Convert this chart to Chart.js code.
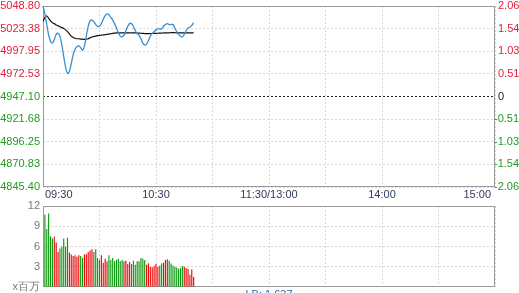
<!DOCTYPE html>
<html><head><meta charset="utf-8">
<script src="https://cdn.jsdelivr.net/npm/chart.js@4.4.0/dist/chart.umd.min.js"></script>
<style>
html,body{margin:0;padding:0;background:#fff;overflow:hidden;}
#wrap{position:relative;width:519px;height:293px;}
#c1{position:absolute;left:0;top:0;}
#c2{position:absolute;left:0;top:200px;}
</style></head><body>
<div id="wrap">
<canvas id="c1" width="519" height="200"></canvas>
<canvas id="c2" width="519" height="93"></canvas>
</div>
<script>
// ---- data ----
const timeLabels = ['09:30','10:30','11:30/13:00','14:00','15:00'];
const timeLabelMinutes = [0,60,120,180,240];
const gridMinutes = [0,30,60,90,120,150,180,210,240];
const prevClose = 4947.10;
const priceTicks = [5048.80,5023.38,4997.95,4972.53,4947.10,4921.68,4896.25,4870.83,4845.40];
const pctTicks = [2.06,1.54,1.03,0.51,0,-0.51,-1.03,-1.54,-2.06];
// price per minute from 09:30
const price = [5048.8,5040,5028,5016,5009,5007,5011,5017,5018,5015,
  5005,4992,4980,4973,4975,4984,4994,5000,5003,5004,
  5002,4999,5004,5015,5026,5032,5033,5031,5028,5026,
  5026,5029,5034,5038,5040,5039,5036,5033,5029,5024,
  5019,5015,5014,5016,5021,5026,5029,5029,5026,5021,
  5018,5016,5012,5007,5005,5006,5010,5015,5018,5020,
  5022,5023,5023,5023,5026,5028,5029,5028,5028,5028,
  5024,5020,5017,5015,5014,5017,5021,5024,5025,5027,5030];
const avgPrice = [5031,5036,5037.6,5035,5032,5030,5029,5027.5,5026.5,5025.5,
  5024.5,5023.5,5022,5020,5017.5,5015,5013.5,5012.5,5012,5012,
  5011.5,5011.5,5011.2,5011.5,5012,5013,5014,5014.5,5015,5015.5,
  5015.8,5016,5016.3,5016.6,5017,5017.3,5017.6,5018,5018.3,5018.5,
  5018.6,5018.6,5018.5,5018.5,5018.5,5018.6,5018.7,5018.7,5018.6,5018.5,
  5018.4,5018.3,5018.2,5018,5017.8,5017.7,5017.7,5017.8,5017.9,5018,
  5018.1,5018.2,5018.3,5018.4,5018.5,5018.6,5018.7,5018.7,5018.8,5018.8,
  5018.8,5018.7,5018.7,5018.6,5018.5,5018.5,5018.5,5018.5,5018.5,5018.6,5018.6];
// volume (x百万) for minutes 1..80
const volume = [10.7,8.6,10.9,7.5,7.2,7.5,6.6,5.2,5.7,6.0,
  7.2,6.0,7.3,5.1,4.8,4.6,4.7,4.5,4.7,4.6,
  4.3,4.8,4.9,5.2,5.4,5.6,5.2,5.6,4.3,4.0,
  4.7,3.6,4.2,3.8,4.7,4.0,4.3,3.8,4.0,4.2,
  3.8,4.0,3.8,3.9,3.4,3.7,3.4,3.9,3.3,3.8,
  3.8,4.3,4.2,4.0,3.3,3.5,3.0,2.9,3.1,3.4,
  3.0,3.2,3.5,3.6,4.0,4.1,3.9,3.5,3.2,3.0,
  2.9,2.7,2.8,3.1,3.0,2.8,2.7,1.8,2.6,1.5];
const volTicks = [0,3,6,9,12];
const volUnit = 'x百万';
const lbText = 'LB: 1.637';

// ---- styles ----
const FONT = {family:'"Liberation Sans", Arial, sans-serif', size:11};
const FONT_CSS = '11px "Liberation Sans", Arial, sans-serif';
const RED = '#e0203a', GREEN = '#229a22', UPBAR = '#e80808', DOWNBAR = '#0c960c';
const GRID = '#d9d9d9', FRAME = '#9a9a9a';

const framePlugin = {
  id:'frame',
  beforeDatasetsDraw(chart){
    const a = chart.chartArea, ctx = chart.ctx;
    ctx.save(); ctx.strokeStyle = FRAME; ctx.lineWidth = 1;
    ctx.strokeRect(Math.round(a.left)+0.5, Math.round(a.top)+0.5, Math.round(a.right-a.left)-1, Math.round(a.bottom-a.top)-1);
    ctx.restore();
  }
};
const timeLabelPlugin = {
  id:'timeLabels',
  afterDraw(chart){
    const s = chart.scales.x, ctx = chart.ctx, a = chart.chartArea;
    ctx.save(); ctx.font = FONT_CSS;
    ctx.fillStyle = '#2f3a60'; ctx.textBaseline = 'middle';
    timeLabels.forEach((t,i)=>{
      let x = s.getPixelForValue(timeLabelMinutes[i]);
      if(i===0){ctx.textAlign='left'; x += 2;}
      else if(i===timeLabels.length-1){ctx.textAlign='right'; x -= 4;}
      else ctx.textAlign='center';
      ctx.fillText(t, x, a.bottom + 8);
    });
    ctx.restore();
  }
};
const pctLabelPlugin = {
  id:'pctLabels',
  afterDraw(chart){
    const s = chart.scales.y1, ctx = chart.ctx, a = chart.chartArea;
    ctx.save(); ctx.font = FONT_CSS; ctx.textBaseline = 'middle'; ctx.textAlign = 'left';
    pctTicks.forEach(v=>{
      const y = s.getPixelForValue(v);
      ctx.fillStyle = v > 0 ? RED : (v < 0 ? GREEN : '#222');
      const txt = v === 0 ? '0' : v.toFixed(2);
      ctx.fillText(txt, v < 0 ? a.right - 1 : a.right + 3, y);
    });
    ctx.restore();
  }
};
const lbPlugin = {
  id:'lb',
  afterDraw(chart){
    const a = chart.chartArea, ctx = chart.ctx;
    ctx.save(); ctx.font = FONT_CSS;
    ctx.fillStyle = '#2a66b0'; ctx.textAlign = 'center'; ctx.textBaseline = 'alphabetic';
    ctx.fillText(lbText, (a.left+a.right)/2, a.bottom + 11);
    ctx.restore();
  }
};

const xScale = (h) => ({
  type:'linear', min:0, max:240, offset:false,
  afterBuildTicks: s => { s.ticks = gridMinutes.map(v=>({value:v})); },
  ticks:{display:false},
  grid:{color:GRID, drawTicks:false, lineWidth:1, offset:false},
  border:{display:false, dash:[2,2]},
  afterFit: s => { s.height = h; s.paddingLeft = 0; s.paddingRight = 0; }
});
const noPad = s => { s.paddingTop = 0; s.paddingBottom = 0; };

new Chart(document.getElementById('c1'), {
  type:'line',
  data:{datasets:[
    {data: price.map((v,i)=>({x:i,y:v})), borderColor:'#3b8fd0', borderWidth:1.3, pointRadius:0, tension:0.3, clip:4, yAxisID:'y'},
    {data: avgPrice.map((v,i)=>({x:i,y:v})), borderColor:'#111', borderWidth:1.2, pointRadius:0, tension:0.3, yAxisID:'y'}
  ]},
  options:{
    responsive:false, animation:false, events:[],
    layout:{padding:{top:6,left:0,right:0,bottom:0}},
    plugins:{legend:{display:false}, tooltip:{enabled:false}},
    scales:{
      x: xScale(13),
      y:{position:'left', min:priceTicks[priceTicks.length-1], max:priceTicks[0],
        afterBuildTicks: s => { s.ticks = priceTicks.map(v=>({value:v})); },
        ticks:{font:FONT, padding:3, autoSkip:false,
          color: c => c.tick.value > prevClose+0.001 ? RED : GREEN,
          callback: v => Number(v).toFixed(2)},
        grid:{drawTicks:false, color: c => Math.abs(c.tick.value-prevClose)<0.001 ? '#222' : GRID},
        border:{display:false, dash:[2,2]},
        afterFit: s => { s.width = 43; noPad(s); }
      },
      y1:{position:'right', min:pctTicks[pctTicks.length-1], max:pctTicks[0],
        afterBuildTicks: s => { s.ticks = pctTicks.map(v=>({value:v})); },
        ticks:{display:false},
        grid:{display:false, drawTicks:false},
        border:{display:false},
        afterFit: s => { s.width = 24; noPad(s); }
      }
    }
  },
  plugins:[framePlugin, timeLabelPlugin, pctLabelPlugin]
});

const barColors = volume.map((v,i)=> price[i+1] > price[i] ? UPBAR : DOWNBAR);

new Chart(document.getElementById('c2'), {
  type:'bar',
  data:{datasets:[
    {data: volume.map((v,i)=>({x:i+1,y:v})), backgroundColor:barColors, barPercentage:0.6, categoryPercentage:1, borderWidth:0}
  ]},
  options:{
    responsive:false, animation:false, events:[],
    layout:{padding:{top:6,left:0,right:24,bottom:0}},
    plugins:{legend:{display:false}, tooltip:{enabled:false}},
    scales:{
      x: xScale(6),
      y:{position:'left', min:0, max:12,
        afterBuildTicks: s => { s.ticks = volTicks.map(v=>({value:v})); },
        ticks:{font:FONT, padding:3, color:'#777', autoSkip:false,
          callback: v => v===0 ? volUnit : String(v)},
        grid:{drawTicks:false, color: c => (c.tick.value===0||c.tick.value===12) ? 'rgba(0,0,0,0)' : GRID},
        border:{display:false, dash:[2,2]},
        afterFit: s => { s.width = 43; noPad(s); }
      }
    }
  },
  plugins:[framePlugin, lbPlugin]
});
</script>
</body></html>
